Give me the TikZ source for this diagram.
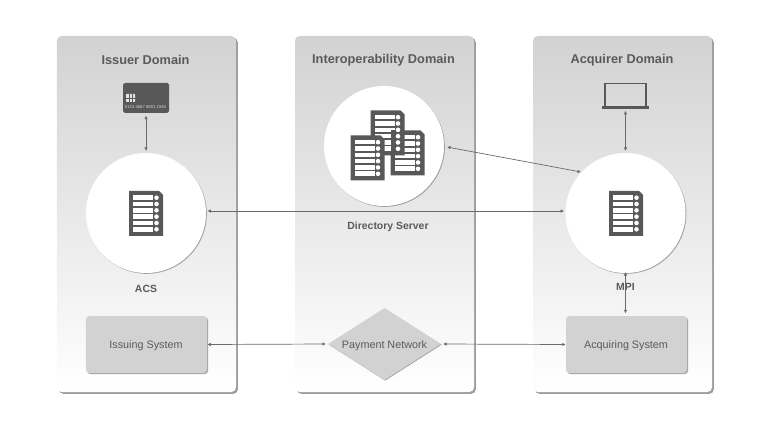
\documentclass[tikz,border=0pt]{standalone}
\usepackage{fontspec}
\setmainfont{Liberation Sans}
\usetikzlibrary{shapes.geometric,shadows,arrows.meta}
\definecolor{icongray}{HTML}{585858}
\definecolor{textgray}{HTML}{5A5A5A}
\definecolor{linegray}{HTML}{6A6A6A}
\definecolor{boxgray}{HTML}{D2D2D2}
\tikzset{
	panelbox/.style={minimum width=5.37cm,minimum height=10.68cm,rounded corners=4pt,top color=boxgray,bottom color=white,
		drop shadow={shadow xshift=1.6pt,shadow yshift=-1.6pt,fill=black!55,opacity=.7}},
	disc/.style={circle,fill=white,minimum size=3.6cm,drop shadow={shadow xshift=.7pt,shadow yshift=-.7pt,fill=black!60,opacity=.55}},
	sysbox/.style={minimum width=3.63cm,minimum height=1.71cm,rounded corners=3pt,fill=boxgray,drop shadow={shadow xshift=.9pt,shadow yshift=-.9pt,fill=black!50,opacity=.7}},
	title/.style={text=textgray,font=\fontsize{10.9}{12}\selectfont\bfseries},
	caption/.style={text=textgray,font=\fontsize{8.9}{10}\selectfont\bfseries},
	plain/.style={text=textgray,font=\fontsize{9.2}{10}\selectfont},
	link/.style={{Latex[length=3pt,width=3pt]}-{Latex[length=3pt,width=3pt]},draw=linegray,line width=.6pt},
	server/.pic={
		\fill[icongray] (-17,-22.5) -- (13,-22.5) -- (17,-18.5) -- (17,22.5) -- (-17,22.5) -- cycle;
		\foreach \row in {0,...,5}{
			\fill[white] (-13,{-15.8+\row*6.32-2.3}) rectangle (7,{-15.8+\row*6.32+2.3});
			\fill[white] (10.5,{-15.8+\row*6.32}) circle (2.3);
		}
	}
}
\begin{document}
\begin{tikzpicture}[x=.03cm,y=-.03cm]
	\useasboundingbox (0,0) rectangle (768,432);
	
	\node[panelbox] (issuer) at (146.5,214) {};
	\node[panelbox] (interop) at (384.5,214) {};
	\node[panelbox] (acquirer) at (622.5,214) {};
	
	\node[title] (issuertitle) at (145.5,60) {Issuer Domain};
	\node[title] (interoptitle) at (383.5,60) {Interoperability Domain};
	\node[title] (acquirertitle) at (622,60) {Acquirer Domain};
	
	\node[disc] (acs) at (146,213) {};
	\node[disc] (directory) at (384,146) {};
	\node[disc] (mpi) at (625.5,213) {};
	
	\pic at (146,213.5) {server};
	\pic at (626,213.5) {server};
	
	% the three stacked ones
	\pic at (407.5,153) {server};
	\pic at (387.5,133) {server};
	\fill[icongray] (390.5,130.5) rectangle (394.5,155);
	\pic at (367.5,158) {server};
	
	% card
	\node[minimum width=1.38cm,minimum height=.9cm,rounded corners=1.5pt,fill=icongray] (card) at (146,98) {};
	\fill[white!90!black,rounded corners=.5pt] (126,94) rectangle (135,102);
	\draw[icongray,line width=.25pt] (126,98) -- (135,98) (129,94) -- (129,102) (132,94) -- (132,102);
	\node[text=white!85!black,font=\fontsize{3.6}{4}\selectfont,inner sep=0pt] (cardnumber) at (145.5,107) {0123 4567 8901 2345};
	
	% laptop
	\coordinate (laptop) at (625.5,109);
	\draw[icongray,line width=1.4pt] (605,107) -- (605,83.5) -- (646,83.5) -- (646,107);
	\fill[icongray] (602,106.5) rectangle (649,109);
	
	\node[caption] (acslabel) at (146,288.5) {ACS};
	\node[caption] (dirlabel) at (388,226.5) {Directory Server};
	\node[caption] (mpilabel) at (625.5,286.5) {MPI};
	
	\node[sysbox] (issuing) at (146.5,344.5) {};
	\node[plain] at (146,345.5) {Issuing System};
	\node[sysbox] (acquiring) at (626.5,344.5) {};
	\node[plain] at (626,345.5) {Acquiring System};
	\node[diamond,minimum width=3.39cm,minimum height=2.16cm,inner sep=0pt,aspect=1.55,fill=boxgray,drop shadow={shadow xshift=.6pt,shadow yshift=-.6pt,fill=black!50,opacity=.7}] (payment) at (384.5,344) {};
	\node[plain] at (384.5,345.5) {Payment Network};
	
	\coordinate (dirend) at (447,147);
	\coordinate (mpiend) at (581,172);
	\coordinate (mpitop) at (625.5,272);
	\draw[link,shorten <=2pt,shorten >=1.5pt] (card.south) -- (card.south |- acs.north);
	\draw[link,shorten <=1.5pt,shorten >=1.5pt] (laptop) -- (laptop |- mpi.north);
	\draw[link] (dirend) -- (mpiend);
	\draw[link,shorten <=1pt,shorten >=1pt] (acs.east |- 0,211) -- (mpi.west |- 0,211);
	\draw[link,shorten >=2pt] (mpitop) -- (acquiring.north -| mpitop);
	\draw[link,shorten >=1.5pt] (issuing.east) -- (payment.west);
	\draw[link,shorten <=1.5pt] (payment.east) -- (acquiring.west);
\end{tikzpicture}
\end{document}
